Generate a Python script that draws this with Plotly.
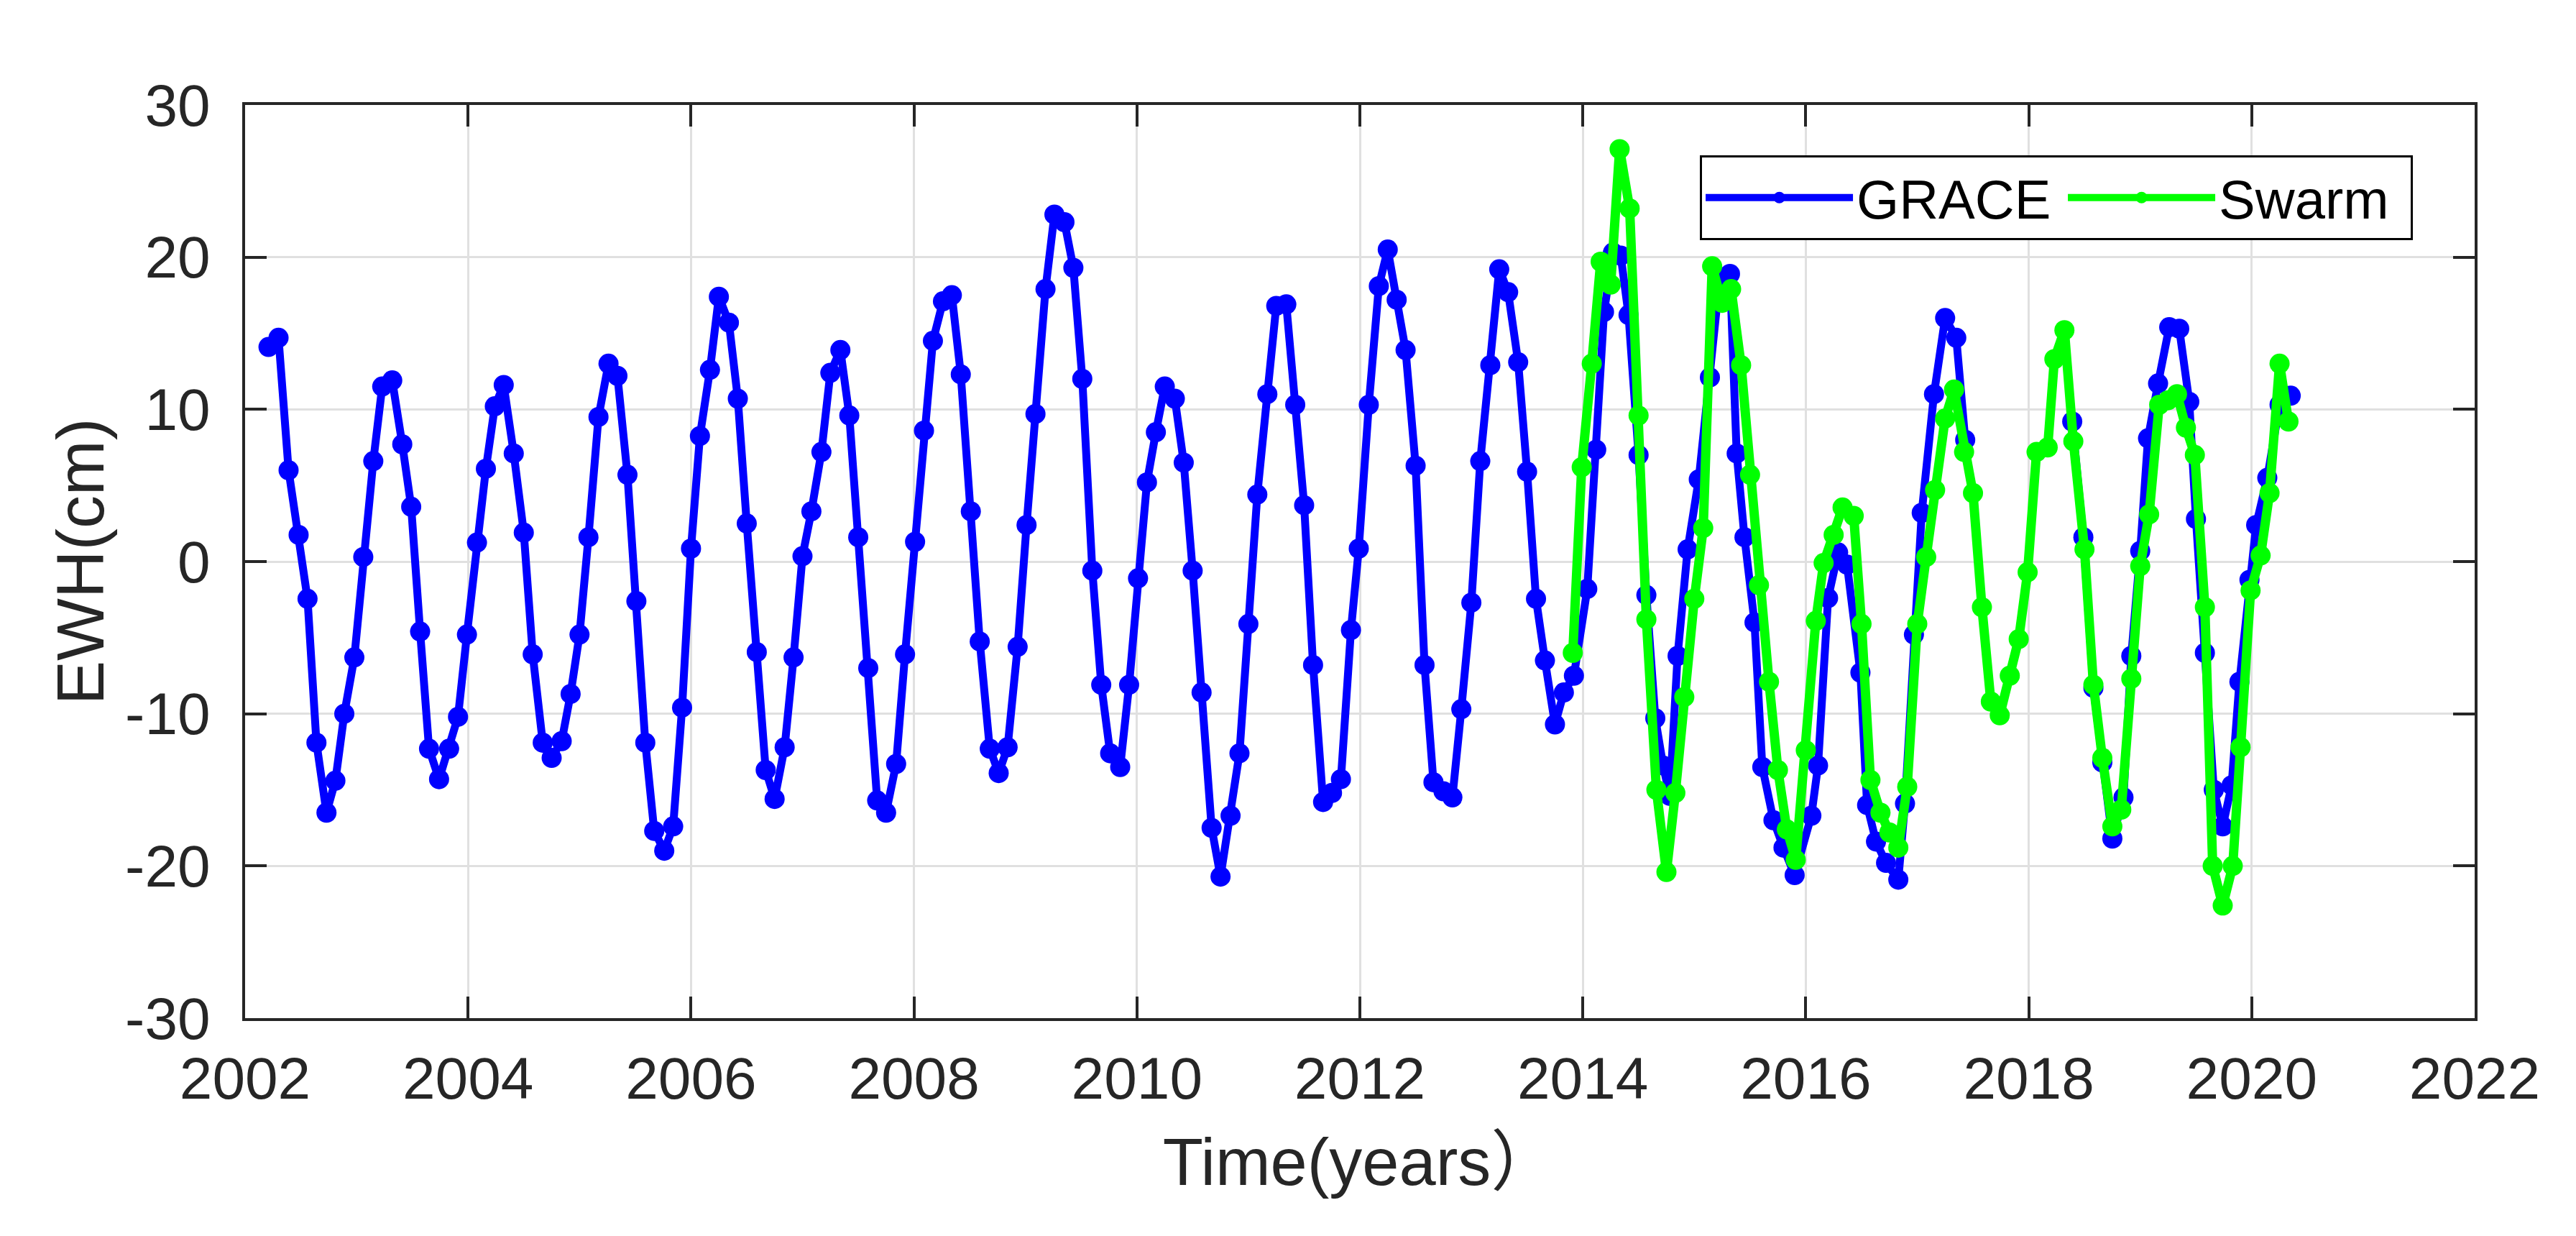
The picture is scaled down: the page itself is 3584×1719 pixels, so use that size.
import plotly.graph_objects as go

# GRACE / GRACE-FO monthly EWH (cm)
grace_t = [2002.21, 2002.30, 2002.39, 2002.48, 2002.56, 2002.64, 2002.73, 2002.81, 2002.89, 2002.98,
           2003.06, 2003.15, 2003.23, 2003.32, 2003.41, 2003.49, 2003.57, 2003.65, 2003.74, 2003.83,
           2003.91, 2003.99, 2004.08, 2004.16, 2004.24, 2004.32, 2004.41, 2004.50, 2004.58, 2004.67,
           2004.75, 2004.84, 2004.92, 2005.00, 2005.08, 2005.17, 2005.26, 2005.34, 2005.43, 2005.51,
           2005.59, 2005.67, 2005.76, 2005.84, 2005.92, 2006.00, 2006.08, 2006.17, 2006.25, 2006.34,
           2006.42, 2006.50, 2006.59, 2006.67, 2006.75, 2006.84, 2006.92, 2007.00, 2007.08, 2007.17,
           2007.25, 2007.34, 2007.42, 2007.50, 2007.59, 2007.67, 2007.75, 2007.84, 2007.92, 2008.01,
           2008.09, 2008.17, 2008.26, 2008.34, 2008.42, 2008.51, 2008.59, 2008.68, 2008.76, 2008.84,
           2008.93, 2009.01, 2009.09, 2009.18, 2009.26, 2009.35, 2009.43, 2009.51, 2009.60, 2009.68,
           2009.76, 2009.85, 2009.93, 2010.01, 2010.09, 2010.17, 2010.25, 2010.34, 2010.42, 2010.50,
           2010.58, 2010.67, 2010.75, 2010.84, 2010.92, 2011.00, 2011.08, 2011.17, 2011.25, 2011.34,
           2011.42, 2011.50, 2011.58, 2011.67, 2011.75, 2011.83, 2011.92, 2011.99, 2012.08, 2012.17,
           2012.25, 2012.33, 2012.41, 2012.50, 2012.58, 2012.66, 2012.75, 2012.83, 2012.91, 2013.00,
           2013.08, 2013.17, 2013.25, 2013.33, 2013.42, 2013.50, 2013.58, 2013.66, 2013.75, 2013.83,
           2013.92, 2014.04, 2014.12, 2014.19, 2014.27, 2014.34, 2014.41, 2014.50, 2014.57, 2014.65,
           2014.72, 2014.78, 2014.85, 2014.94, 2015.04, 2015.14, 2015.23, 2015.32, 2015.38, 2015.45,
           2015.54, 2015.61, 2015.71, 2015.80, 2015.90, 2016.05, 2016.11, 2016.20, 2016.29, 2016.37,
           2016.49, 2016.55, 2016.63, 2016.72, 2016.83, 2016.89, 2016.97, 2017.04, 2017.15, 2017.25,
           2017.35, 2017.43,
           None,
           2018.39, 2018.49, 2018.58, 2018.66, 2018.75, 2018.85, 2018.92, 2019.00, 2019.07, 2019.16,
           2019.26, 2019.35, 2019.44, 2019.50, 2019.58, 2019.66, 2019.74, 2019.82, 2019.89, 2019.98,
           2020.04, 2020.14, 2020.25, 2020.35]
grace_ewh = [14.1, 14.7, 6.0, 1.75, -2.45, -11.9, -16.5, -14.4, -10.0, -6.3,
             0.3, 6.6, 11.5, 11.9, 7.7, 3.6, -4.6, -12.3, -14.3, -12.3,
             -10.2, -4.8, 1.25, 6.1, 10.2, 11.6, 7.1, 1.9, -6.1, -11.9,
             -12.9, -11.8, -8.7, -4.8, 1.6, 9.5, 13.0, 12.2, 5.7, -2.6,
             -11.9, -17.7, -19.0, -17.4, -9.6, 0.85, 8.25, 12.6, 17.4, 15.7,
             10.7, 2.5, -5.95, -13.7, -15.6, -12.2, -6.3, 0.35, 3.3, 7.2,
             12.4, 13.9, 9.6, 1.6, -7.0, -15.7, -16.5, -13.3, -6.1, 1.3,
             8.6, 14.5, 17.1, 17.5, 12.3, 3.3, -5.25, -12.3, -13.9, -12.2,
             -5.6, 2.4, 9.7, 17.9, 22.8, 22.3, 19.3, 12.0, -0.6, -8.1,
             -12.6, -13.5, -8.1, -1.1, 5.2, 8.5, 11.5, 10.7, 6.5, -0.6,
             -8.6, -17.5, -20.7, -16.7, -12.6, -4.1, 4.4, 11.0, 16.8, 16.9,
             10.3, 3.7, -6.8, -15.8, -15.2, -14.3, -4.5, 0.85, 10.3, 18.1,
             20.5, 17.2, 13.9, 6.3, -6.8, -14.5, -15.1, -15.5, -9.7, -2.7,
             6.6, 12.9, 19.2, 17.7, 13.1, 5.9, -2.45, -6.5, -10.7, -8.6,
             -7.5, -1.8, 7.35, 16.4, 20.3, 20.1, 16.2, 7.0, -2.2, -10.3,
             -13.4, -15.4, -6.2, 0.8, 5.4, 12.1, 18.7, 18.9, 7.1, 1.6,
             -4.0, -13.5, -17.0, -18.8, -20.6, -16.7, -13.4, -2.4, 0.6, -0.2,
             -7.3, -16.0, -18.4, -19.8, -20.9, -15.9, -4.8, 3.2, 11.0, 16.0,
             14.7, 8.0,
             None,
             9.2, 1.6, -8.3, -13.2, -18.2, -15.5, -6.2, 0.7, 8.1, 11.7,
             15.4, 15.3, 10.5, 2.8, -6.0, -15.0, -17.4, -14.7, -7.9, -1.2,
             2.4, 5.5, 10.3, 10.9]

# Swarm monthly EWH (cm)
swarm_t = [2013.91, 2013.99, 2014.08, 2014.16, 2014.25, 2014.33, 2014.42, 2014.50, 2014.57, 2014.66,
           2014.75, 2014.83, 2014.91, 2015.00, 2015.08, 2015.16, 2015.25, 2015.33, 2015.42, 2015.50,
           2015.58, 2015.67, 2015.75, 2015.83, 2015.91, 2016.00, 2016.09, 2016.16, 2016.25, 2016.33,
           2016.43, 2016.50, 2016.58, 2016.67, 2016.75, 2016.83, 2016.91, 2017.00, 2017.08, 2017.16,
           2017.25, 2017.33, 2017.42, 2017.50, 2017.58, 2017.66, 2017.74, 2017.83, 2017.91, 2017.99,
           2018.07, 2018.17, 2018.23, 2018.32, 2018.40, 2018.50, 2018.58, 2018.66, 2018.75, 2018.83,
           2018.92, 2019.00, 2019.08, 2019.17, 2019.25, 2019.33, 2019.41, 2019.49, 2019.58, 2019.65,
           2019.74, 2019.83, 2019.90, 2019.99, 2020.08, 2020.16, 2020.25, 2020.33]
swarm_ewh = [-6.0, 6.2, 13.0, 19.7, 18.2, 27.1, 23.2, 9.6, -3.8, -15.0,
             -20.4, -15.2, -8.9, -2.45, 2.2, 19.4, 17.0, 17.9, 12.9, 5.7,
             -1.55, -7.9, -13.7, -17.6, -19.6, -12.4, -3.9, -0.1, 1.75, 3.55,
             3.0, -4.1, -14.35, -16.5, -17.8, -18.8, -14.8, -4.1, 0.3, 4.7,
             9.4, 11.3, 7.2, 4.5, -3.0, -9.2, -10.1, -7.5, -5.1, -0.7,
             7.2, 7.5, 13.3, 15.2, 7.9, 0.8, -8.1, -12.9, -17.4, -16.3,
             -7.7, -0.3, 3.1, 10.3, 10.6, 11.0, 8.8, 7.0, -3.0, -20.0,
             -22.6, -20.0, -12.2, -1.9, 0.4, 4.5, 13.0, 9.2]

x_ticks = [2002, 2004, 2006, 2008, 2010, 2012, 2014, 2016, 2018, 2020, 2022]
y_ticks = [-30, -20, -10, 0, 10, 20, 30]
y_labels = ["-30", "-20", "-10", "0", "10", "20", "30"]

FONT = "Arial, Liberation Sans, Noto Sans CJK SC, sans-serif"
AX = "#262626"

fig = go.Figure()
fig.add_trace(go.Scatter(x=grace_t, y=grace_ewh, name="GRACE", mode="lines+markers",
                         line=dict(color="#0000ff", width=11),
                         marker=dict(color="#0000ff", size=28)))
fig.add_trace(go.Scatter(x=swarm_t, y=swarm_ewh, name="Swarm", mode="lines+markers",
                         line=dict(color="#00ff00", width=13),
                         marker=dict(color="#00ff00", size=28),
                         legendwidth=262))

axis_common = dict(showline=True, linecolor=AX, linewidth=4, mirror="ticks",
                   ticks="inside", ticklen=30, tickwidth=4, tickcolor=AX,
                   showgrid=True, gridcolor="#e0e0e0", gridwidth=3, zeroline=False,
                   tickfont=dict(family=FONT, size=82, color=AX))

fig.update_xaxes(range=[2002, 2022], tickvals=x_ticks, ticklabelstandoff=10,
                 title=dict(text="Time(years\uff09", font=dict(family=FONT, size=92, color=AX),
                            standoff=40),
                 **axis_common)
fig.update_yaxes(range=[-30, 30], tickvals=y_ticks, ticktext=y_labels, ticklabelstandoff=28,
                 title=dict(text="EWH(cm)", font=dict(family=FONT, size=92, color=AX),
                            standoff=0),
                 **axis_common)

fig.update_layout(
    width=3584, height=1719, autosize=False,
    margin=dict(l=333, r=149, t=138, b=311),
    plot_bgcolor="white", paper_bgcolor="white",
    legend=dict(orientation="h", x=0.6525, y=0.945, xanchor="left", yanchor="top",
                bgcolor="white", bordercolor="#000000", borderwidth=3,
                font=dict(family=FONT, size=76, color="#000000"),
                itemwidth=205, entrywidth=284, entrywidthmode="pixels"),
)

fig.write_html("out.html")
